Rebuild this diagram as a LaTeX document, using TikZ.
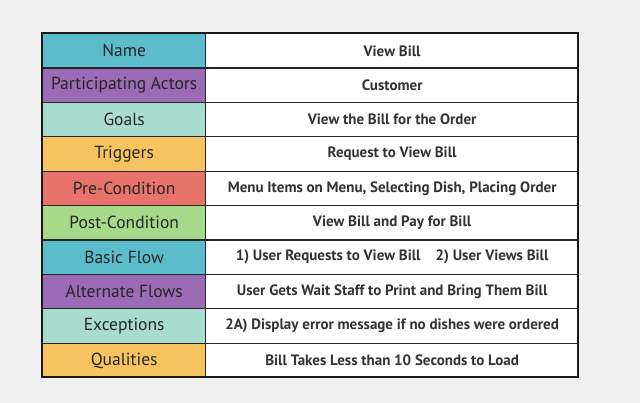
\documentclass[tikz,border=0pt]{standalone}
\usepackage{fontspec}
\setmainfont{PT Sans}
\begin{document}
\begin{tikzpicture}[x=1pt,y=-1pt,
  lab/.style={minimum width=163pt,minimum height=34.4pt,draw=black!85,line width=1.3pt,inner sep=0pt,font=\fontsize{17.5}{18}\selectfont,text=black!85,anchor=north west},
  val/.style={minimum width=373pt,minimum height=34.4pt,draw=black!85,line width=1.3pt,inner sep=0pt,font=\bfseries\fontsize{15}{16}\selectfont,text=black!80,fill=white,anchor=north west}]
\definecolor{cA}{HTML}{5BBCCB}\definecolor{cB}{HTML}{9C6BB5}\definecolor{cC}{HTML}{A8DCCF}
\definecolor{cD}{HTML}{F6C35E}\definecolor{cE}{HTML}{E8736A}\definecolor{cF}{HTML}{A6D98A}
\fill[black!6] (0,0) rectangle (640,403);
\useasboundingbox (0,0) rectangle (640,403);
\foreach \i/\c/\l/\v in {0/cA/Name/View Bill,1/cB/Participating Actors/Customer,2/cC/Goals/View the Bill for the Order,3/cD/Triggers/Request to View Bill,4/cE/Pre-Condition/{Menu Items on Menu, Selecting Dish, Placing Order},5/cF/Post-Condition/View Bill and Pay for Bill,6/cA/Basic Flow/{1) User Requests to View Bill\quad 2) User Views Bill},7/cB/Alternate Flows/User Gets Wait Staff to Print and Bring Them Bill,8/cC/Exceptions/2A) Display error message if no dishes were ordered,9/cD/Qualities/Bill Takes Less than 10 Seconds to Load}
{
  \node[lab,fill=\c] (l\i) at (42,{33+34.4*\i}) {\l};
  \node[val] (v\i) at (205,{33+34.4*\i}) {\v};
}
\draw[black!90,line width=1.8pt] (42,33) rectangle (578,377);
\end{tikzpicture}
\end{document}
